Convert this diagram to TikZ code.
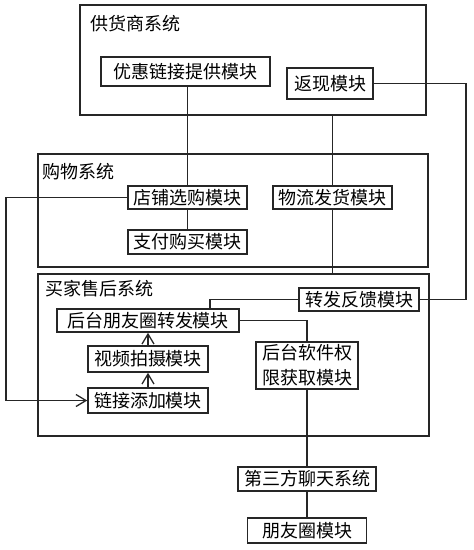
\documentclass[tikz,border=0pt]{standalone}
\usepackage{fontspec}
\setmainfont{Noto Sans CJK SC}
\usetikzlibrary{arrows.meta}
\begin{document}
\begin{tikzpicture}[x=1pt,y=-1pt,
  ln/.style={line width=1.5pt, draw=black!85},
  sysbox/.style={ln, draw, inner sep=0pt},
  mod/.style={ln, draw, inner sep=0pt, font=\fontsize{18pt}{25pt}\selectfont, fill=white},
  lbl/.style={inner sep=0pt, anchor=west, font=\fontsize{18pt}{25pt}\selectfont},
  conn/.style={ln},
  arr/.style={ln, -{Straight Barb[length=10pt,width=12pt,line width=1.3pt]}}]
\useasboundingbox (0,0) rectangle (474,550);
% system boxes
\node[sysbox, minimum width=346pt, minimum height=110pt] (supplier) at (253,60) {};
\node[lbl] (supl) at (90,24) {供货商系统};
\node[sysbox, minimum width=390pt, minimum height=113pt] (shop) at (233,210.5) {};
\node[lbl] (shopl) at (42,172) {购物系统};
\node[sysbox, minimum width=391pt, minimum height=162pt] (after) at (233.5,355) {};
\node[lbl] (afterl) at (45,289) {买家售后系统};
% modules
\node[mod, minimum width=169pt, minimum height=29pt] (youhui) at (185.5,71.5) {优惠链接提供模块};
\node[mod, minimum width=86pt, minimum height=31pt] (fanxian) at (330,83.5) {返现模块};
\node[mod, minimum width=119pt, minimum height=23pt] (dianpu) at (187.5,197.5) {店铺选购模块};
\node[mod, minimum width=119pt, minimum height=23pt] (wuliu) at (332.5,197.5) {物流发货模块};
\node[mod, minimum width=119pt, minimum height=24pt] (zhifu) at (187.5,242) {支付购买模块};
\node[mod, minimum width=120pt, minimum height=23pt] (zhuanfa) at (359,299.5) {转发反馈模块};
\node[mod, minimum width=182pt, minimum height=23pt] (houtai) at (148,320.5) {后台朋友圈转发模块};
\node[mod, minimum width=120pt, minimum height=26pt] (shipin) at (148,359) {视频拍摄模块};
\node[mod, minimum width=120pt, minimum height=25pt] (lianjie) at (148,400.5) {链接添加模块};
\node[mod, minimum width=102pt, minimum height=47pt, align=center] (quanxian) at (307,365.5) {后台软件权\\限获取模块};
\node[mod, minimum width=138pt, minimum height=24pt] (disan) at (307,479) {第三方聊天系统};
\node[mod, minimum width=119pt, minimum height=25pt] (pyq) at (307,530.5) {朋友圈模块};
% helper coordinates
\coordinate (rx) at (466,200);
\coordinate (lx) at (6,300);
\coordinate (mx) at (210,300);
% connectors
\draw[conn] (youhui.south -| dianpu.north) -- (dianpu.north);
\draw[conn] (dianpu.south) -- (zhifu.north);
\draw[conn] (wuliu.north |- supplier.south) -- (wuliu.north);
\draw[conn] (wuliu.south) -- (wuliu.south |- after.north);
\draw[conn] (fanxian.east) -| (rx) |- (zhuanfa.east);
\draw[conn] (zhuanfa.west) -| (houtai.north -| mx);
\draw[conn] (houtai.east) -| (quanxian.north);
\draw[conn] (quanxian.south) -- (disan.north);
\draw[conn] (disan.south) -- (pyq.north);
\draw[arr] (dianpu.west) -| (lx) |- (lianjie.west);
\draw[arr] (lianjie.north) -- (shipin.south);
\draw[arr] (shipin.north) -- (houtai.south);
\end{tikzpicture}
\end{document}
